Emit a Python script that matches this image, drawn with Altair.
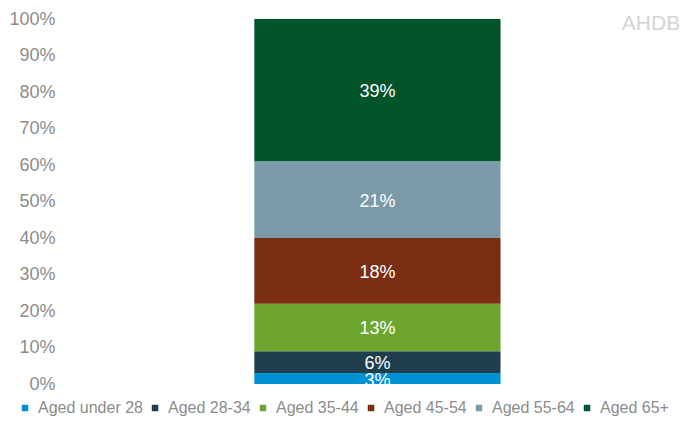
import altair as alt
import pandas as pd

groups = ["Aged under 28", "Aged 28-34", "Aged 35-44", "Aged 45-54", "Aged 55-64", "Aged 65+"]
shares = [3, 6, 13, 18, 21, 39]
colors = ["#0091D5", "#1F3F4F", "#6DA52F", "#7B2E12", "#7A9AA7", "#01542A"]
y_ticks = [0, 10, 20, 30, 40, 50, 60, 70, 80, 90, 100]

df = pd.DataFrame({
    "cat": ["All"] * len(groups),
    "group": groups,
    "share": shares,
    "order": list(range(len(groups))),
})

FONT = "Liberation Sans"

x_enc = alt.X("cat:N", axis=None,
              scale=alt.Scale(paddingInner=0, paddingOuter=0.753, align=0.516))

y_axis = alt.Axis(values=y_ticks, labelExpr="datum.value + '%'",
                  grid=False, domain=False, ticks=False, labelOverlap=False,
                  tickCount=11,
                  labelPadding=8, labelFontSize=18, labelColor="#8c8c8c",
                  labelFont=FONT, title=None)
y_scale = alt.Scale(domain=[0, 100], nice=False)

base = alt.Chart(df)

bars = base.mark_bar().encode(
    x=x_enc,
    y=alt.Y("share:Q", stack="zero", scale=y_scale, axis=y_axis),
    color=alt.Color("group:N", sort=groups,
                    scale=alt.Scale(domain=groups, range=colors),
                    legend=alt.Legend(orient="none", legendX=-46, legendY=381,
                                      direction="horizontal", columns=6,
                                      title=None, symbolType="square",
                                      symbolSize=42, symbolStrokeWidth=0,
                                      labelFontSize=16, labelColor="#8c8c8c",
                                      labelFont=FONT, labelOffset=5,
                                      columnPadding=4)),
    order=alt.Order("order:Q"),
)

labels = base.transform_window(
    cum="sum(share)", sort=[alt.SortField("order")], frame=[None, 0]
).transform_calculate(
    mid="datum.cum - datum.share / 2",
    lab="datum.share + '%'",
).mark_text(color="white", fontSize=18, font=FONT, baseline="middle", dy=2).encode(
    x=x_enc,
    y=alt.Y("mid:Q", scale=y_scale, axis=y_axis),
    text="lab:N",
)

logo = alt.Chart(pd.DataFrame({"t": ["AHDB"]})).mark_text(
    color="#d4d4d4", fontSize=21, font=FONT, baseline="middle", align="center"
).encode(x=alt.value(588), y=alt.value(5), text="t:N")

chart = alt.layer(bars, labels, logo).properties(
    width=617, height=365,
    padding={"left": 0, "top": 2, "right": 0, "bottom": 0},
).configure_view(stroke=None)

chart.save("out.html", embed_options={"renderer": "svg", "actions": False})
